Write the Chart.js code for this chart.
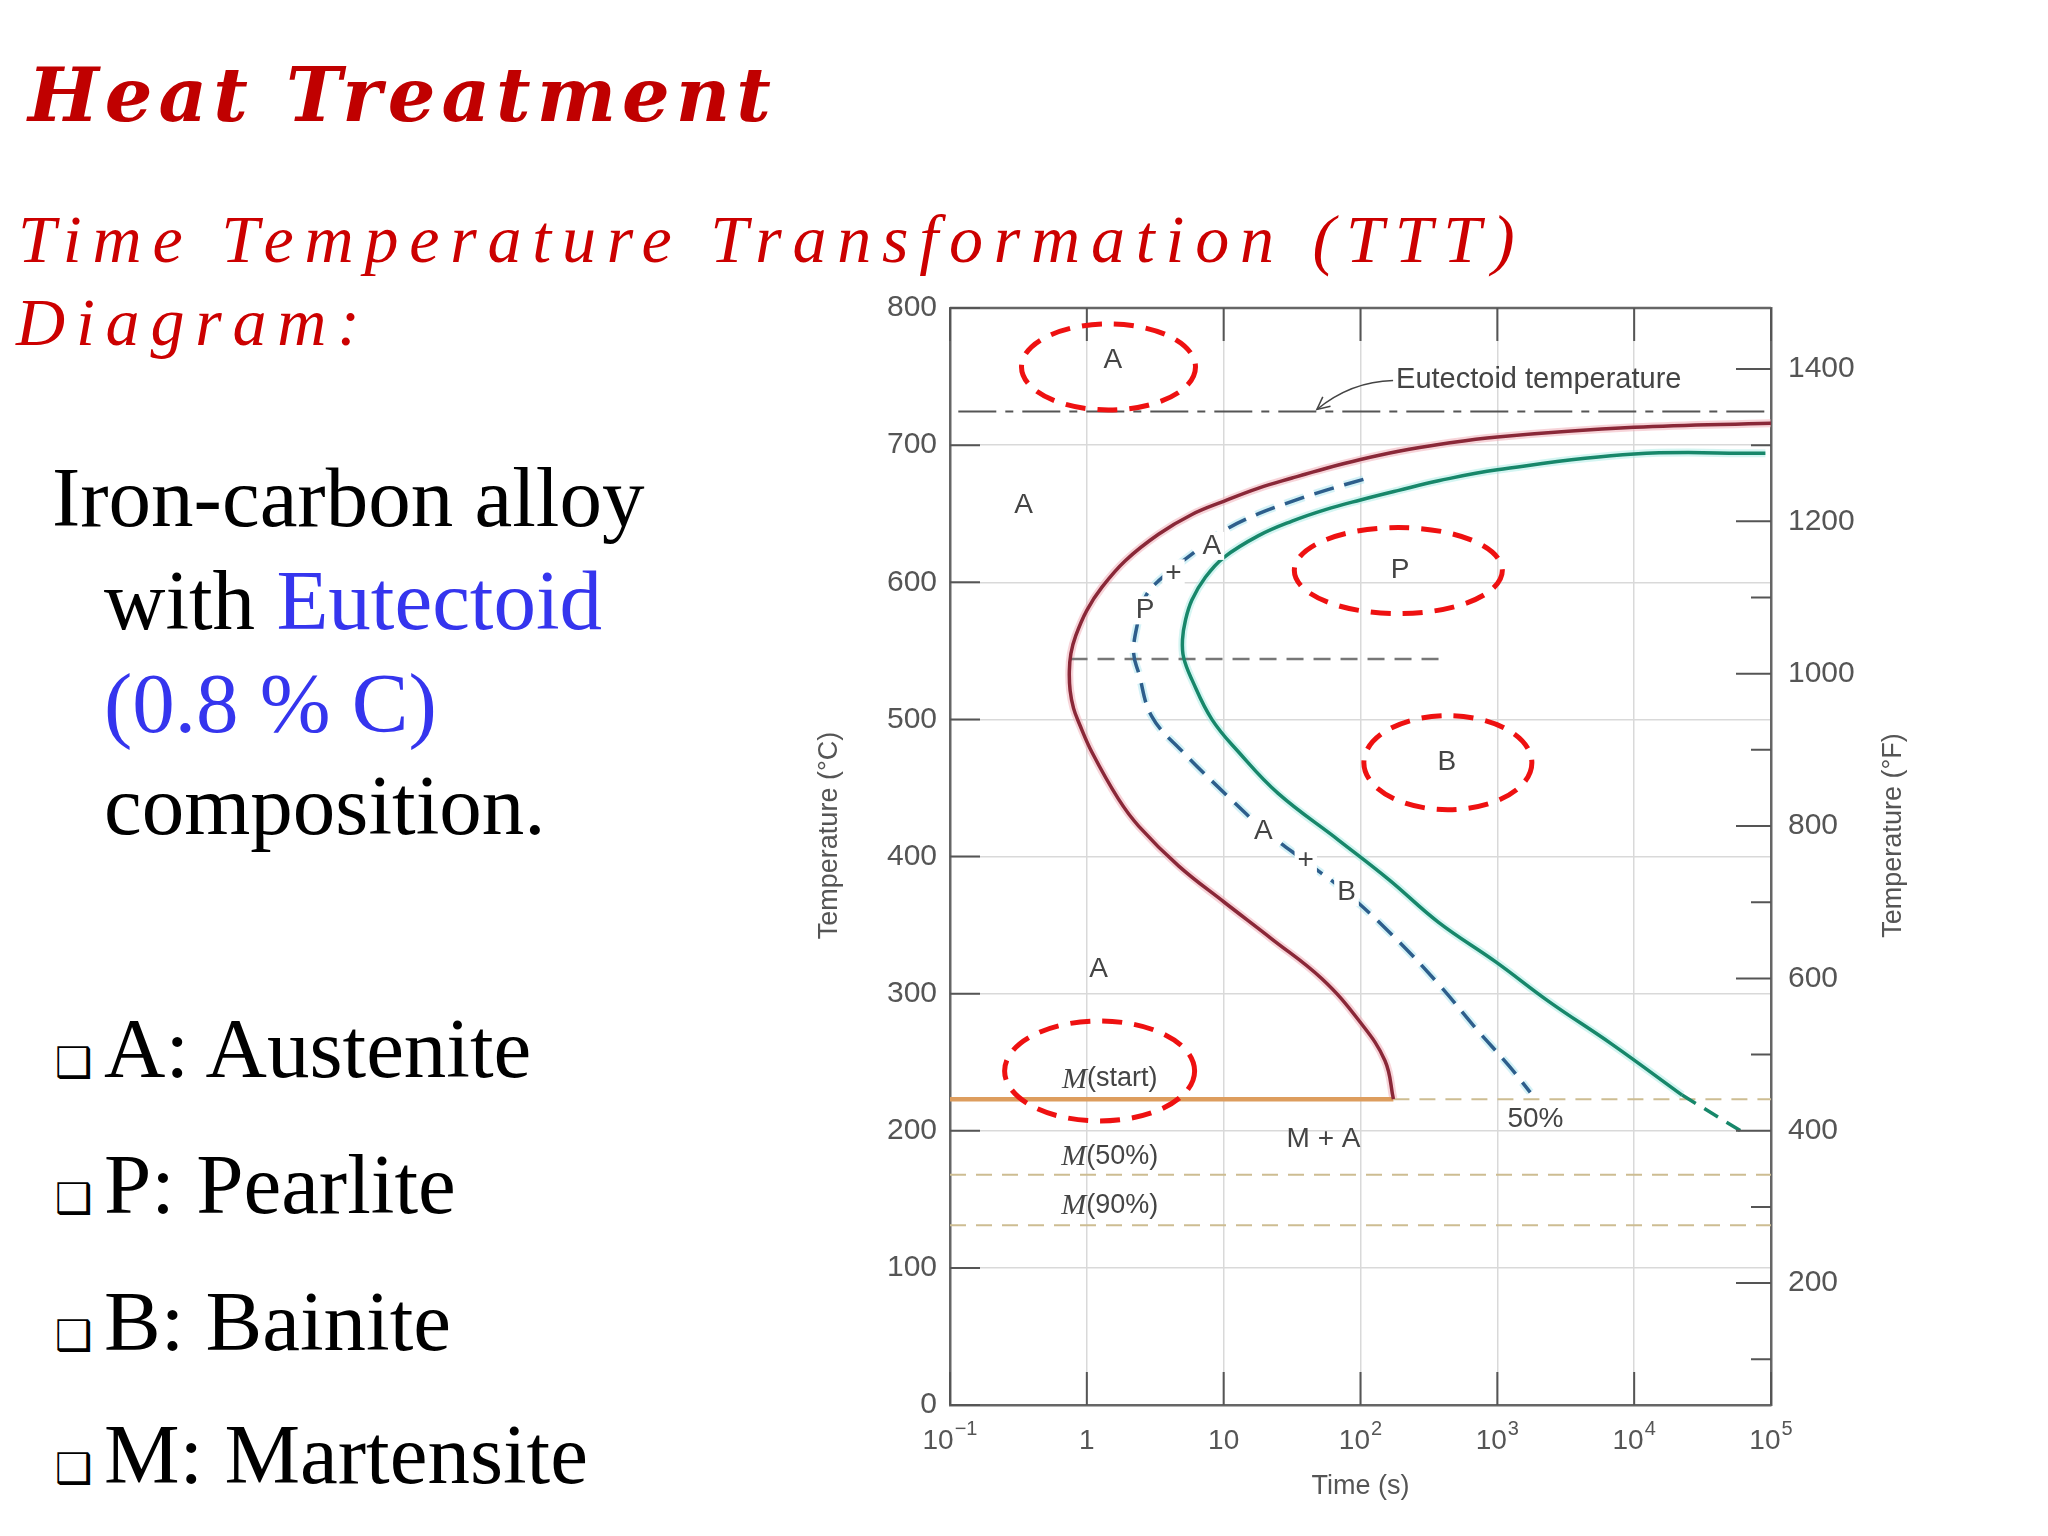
<!DOCTYPE html>
<html>
<head>
<meta charset="utf-8">
<script src="https://cdn.jsdelivr.net/npm/chart.js@4.4.1/dist/chart.umd.min.js"></script>
<style>
  html, body { margin: 0; padding: 0; background: #fff; }
  body { width: 2048px; height: 1536px; position: relative; overflow: hidden; }
  .t { position: absolute; white-space: nowrap; line-height: 1; }
  .title { font-family: "DejaVu Serif", serif; font-weight: bold; font-style: italic; font-size: 75px; color: #c00000; letter-spacing: 6px; }
  .sub { font-family: "Liberation Serif", serif; font-style: italic; font-size: 68px; color: #cc0000; letter-spacing: 10.8px; }
  .body { font-family: "Liberation Serif", "Times New Roman", serif; font-size: 85px; color: #000; }
  .blue { color: #3535ee; }
  .bullet { font-family: "DejaVu Sans", sans-serif; font-size: 42px; color: #000; }
  #chart-box { position: absolute; left: 780px; top: 273px; width: 1240px; height: 1262px; }
</style>
</head>
<body>
<div class="t title" style="left:28px; top:58px;">Heat Treatment</div>
<div class="t sub" style="left:18px; top:205px;">Time Temperature Transformation (TTT)</div>
<div class="t sub" style="left:16px; top:288px;">Diagram:</div>

<div class="t body" style="left:52px; top:455px;">Iron-carbon alloy</div>
<div class="t body" style="left:104px; top:558px;">with <span class="blue">Eutectoid</span></div>
<div class="t body blue" style="left:104px; top:661px;">(0.8 % C)</div>
<div class="t body" style="left:104px; top:763px;">composition.</div>

<div class="t bullet" style="left:55px; top:1042px;">❑</div>
<div class="t body" style="left:104px; top:1006px;">A: Austenite</div>
<div class="t bullet" style="left:55px; top:1178px;">❑</div>
<div class="t body" style="left:104px; top:1142px;">P: Pearlite</div>
<div class="t bullet" style="left:55px; top:1315px;">❑</div>
<div class="t body" style="left:104px; top:1279px;">B: Bainite</div>
<div class="t bullet" style="left:55px; top:1448px;">❑</div>
<div class="t body" style="left:104px; top:1412px;">M: Martensite</div>

<div id="chart-box"><canvas id="ttt" width="1240" height="1262"></canvas></div>

<script>
// ---- axis ticks ----
const xTicks = [0.1, 1, 10, 100, 1000, 10000, 100000]
const xTickBase = ['10', '1', '10', '10', '10', '10', '10']
const xTickExp = ['\u22121', '', '', '2', '3', '4', '5']
const fTicksMajor = [200, 400, 600, 800, 1000, 1200, 1400]
const fTicksMinor = [100, 300, 500, 700, 900, 1100, 1300]

// ---- curves (time in s, temperature in °C) ----
// start of transformation
const startTime = [100000, 10000, 1000, 372, 190, 100, 55.5, 31.6, 18, 10, 5.86, 3.34, 1.91, 1.29, 1.0, 0.83, 0.765, 0.745, 0.755, 0.8, 0.88, 1.09, 1.7, 2.4, 4.7, 10, 22.4, 52, 98, 151, 174]
const startTemp = [716, 713, 706, 700.5, 695.5, 689.5, 683, 676, 668.6, 659, 649.4, 635, 615.7, 596.4, 579.5, 561, 548, 535, 521, 508, 497, 476, 442, 422, 393, 367, 340, 311, 280, 251, 223]
// 50% transformed (dashed)
const halfTime = [105, 55.5, 31.6, 18, 10, 5.86, 3.34, 2.67, 2.32, 2.2, 2.39, 2.99, 4.95, 10.7, 20, 40, 72, 162, 372, 692, 1200, 1740]
const halfTemp = [675, 667, 659, 650, 637.4, 620.5, 601, 589, 567.5, 548, 534, 502, 477, 444, 419, 396, 377, 345, 307, 275, 248, 228]
// end of transformation
const finishTime = [91000, 10000, 1000, 372, 190, 100, 55.5, 31.6, 18, 10, 7.35, 5.86, 5.25, 5.0, 5.1, 5.86, 8.2, 12.9, 25, 69, 162, 372, 980, 2400, 6900, 22400]
const finishTemp = [694, 693.5, 682, 674, 667, 660, 653, 644.6, 634, 618, 603.6, 587, 572, 558, 545, 529, 500, 476, 446, 412, 383, 352, 323, 294, 263, 226]
const finishDashTime = [22400, 60000]
const finishDashTemp = [226, 200]

// ---- horizontal reference lines ----
const eutectoidTemp = 724.5
const eutectoidTime = [0.115, 100000]
const noseTemp = 544
const noseTime = [0.76, 385]
const msTemp = 223
const msSolidTime = [0.1, 174]
const msDashTime = [174, 100000]
const m50Temp = 168
const m90Temp = 131
const mLineTime = [0.1, 100000]

// ---- text labels inside the plot ----
const labelText = ['A', 'A', 'P', '+', 'A', 'P', 'B', 'A', '+', 'B', 'A', 'M + A', '50%']
const labelTime = [1.55, 0.345, 2.67, 4.3, 8.2, 195, 427, 19.5, 39.8, 79, 1.22, 53.7, 1900]
const labelTemp = [762, 656, 579.5, 606.5, 626.5, 608.5, 469, 418.6, 397, 374, 318, 193.6, 208]
const labelMask = [false, false, true, true, true, false, false, true, true, true, false, false, false]
const mSuffix = ['(start)', '(50%)', '(90%)']
const mTime = [1.47, 1.47, 1.47]
const mTemp = [238, 181.5, 145.5]
const eutLabel = 'Eutectoid temperature'
const eutLabelTime = 182
const eutLabelTemp = 747.8
const eutArrowTime = 48

// ---- highlighted regions (red dashed ellipses) ----
const ringTime = [1.44, 189, 435, 1.24]
const ringTemp = [757, 608.5, 468.4, 243.6]
const ringRx = [87, 104, 84, 95]
const ringRy = [43, 43, 47, 50]

const toPoints = (times, temps) => times.map((t, i) => ({ x: t, y: temps[i] }))
const flat = (times, temp) => times.map(t => ({ x: t, y: temp }))

const RED = '#8a2838'
const GREEN = '#17876a'
const BLUE = '#2d5e8c'
const AXIS = '#666'
const GRID = '#d9d9d9'
const TXT = '#444'
const SANS = '"Liberation Sans", Arial, sans-serif'

const line = (data, color, width, dash, extra) => Object.assign({
    data: data,
    showLine: true,
    borderColor: color,
    borderWidth: width,
    borderDash: dash || [],
    pointRadius: 0,
    fill: false,
    tension: 0
}, extra || {})

const datasets = [
    line(toPoints(startTime, startTemp), RED, 3.5, [], { tension: 0.4 }),
    line(toPoints(halfTime, halfTemp), BLUE, 3.5, [20, 11], { tension: 0.4 }),
    line(toPoints(finishTime, finishTemp), GREEN, 3.5, [], { tension: 0.4 }),
    line(toPoints(finishDashTime, finishDashTemp), GREEN, 3.5, [16, 10]),
    line(flat(msSolidTime, msTemp), '#dd9d5e', 4.5),
    line(flat(msDashTime, msTemp), '#cdbd92', 2, [16, 10]),
    line(flat(mLineTime, m50Temp), '#cdbd92', 2, [16, 10]),
    line(flat(mLineTime, m90Temp), '#cdbd92', 2, [16, 10]),
    line(flat(eutectoidTime, eutectoidTemp), '#555', 2, [38, 9, 8, 9]),
    line(flat(noseTime, noseTemp), '#777', 2.5, [17, 10]),
    // soft halos under the curves
    line(toPoints(startTime, startTemp), 'rgba(240,170,180,0.5)', 8, [], { tension: 0.4 }),
    line(toPoints(halfTime, halfTemp), 'rgba(170,230,240,0.5)', 8, [20, 11], { tension: 0.4 }),
    line(toPoints(finishTime, finishTemp), 'rgba(170,235,230,0.5)', 8, [], { tension: 0.4 })
]

const decor = {
    id: 'decor',
    afterDatasetsDraw(chart) {
        const { ctx, chartArea: a, scales } = chart
        const x = scales.x, y = scales.y, y2 = scales.y2
        ctx.save()

        // frame top
        ctx.strokeStyle = AXIS
        ctx.lineWidth = 2.5
        ctx.beginPath()
        ctx.moveTo(a.left, a.top)
        ctx.lineTo(a.right, a.top)
        ctx.stroke()

        // inward tick marks
        ctx.strokeStyle = '#555'
        ctx.lineWidth = 2
        ctx.beginPath()
        y.ticks.forEach(t => {
            const py = y.getPixelForValue(t.value)
            ctx.moveTo(a.left, py); ctx.lineTo(a.left + 30, py)
        })
        xTicks.forEach(v => {
            const px = x.getPixelForValue(v)
            ctx.moveTo(px, a.bottom); ctx.lineTo(px, a.bottom - 33)
            ctx.moveTo(px, a.top); ctx.lineTo(px, a.top + 33)
        })
        fTicksMajor.forEach(v => {
            const py = y2.getPixelForValue(v)
            ctx.moveTo(a.right - 35, py); ctx.lineTo(a.right, py)
        })
        fTicksMinor.forEach(v => {
            const py = y2.getPixelForValue(v)
            ctx.moveTo(a.right - 20, py); ctx.lineTo(a.right, py)
        })
        ctx.stroke()

        // x tick labels with exponents
        ctx.fillStyle = '#555'
        ctx.textBaseline = 'middle'
        xTicks.forEach((v, i) => {
            const px = x.getPixelForValue(v)
            ctx.font = '28px ' + SANS
            const wb = ctx.measureText(xTickBase[i]).width
            ctx.font = '20px ' + SANS
            const we = xTickExp[i] ? ctx.measureText(xTickExp[i]).width + 1 : 0
            const x0 = px - (wb + we) / 2
            ctx.textAlign = 'left'
            ctx.font = '28px ' + SANS
            ctx.fillText(xTickBase[i], x0, a.bottom + 36)
            if (xTickExp[i]) {
                ctx.font = '20px ' + SANS
                ctx.fillText(xTickExp[i], x0 + wb + 1, a.bottom + 24)
            }
        })

        // axis titles
        const midY = (a.top + a.bottom) / 2 - 21
        ctx.font = '27px ' + SANS
        ctx.textAlign = 'center'
        ctx.fillText('Time (s)', (a.left + a.right) / 2, a.bottom + 82)
        ctx.save()
        ctx.translate(a.left - 120, midY)
        ctx.rotate(-Math.PI / 2)
        ctx.fillText('Temperature (\u00B0C)', 0, 0)
        ctx.restore()
        ctx.save()
        ctx.translate(a.right + 123, midY)
        ctx.rotate(-Math.PI / 2)
        ctx.fillText('Temperature (\u00B0F)', 0, 0)
        ctx.restore()

        // region labels
        ctx.font = '28px ' + SANS
        ctx.fillStyle = TXT
        ctx.textAlign = 'center'
        labelText.forEach((s, i) => {
            const px = x.getPixelForValue(labelTime[i])
            const py = y.getPixelForValue(labelTemp[i])
            if (labelMask[i]) {
                const w = ctx.measureText(s).width
                ctx.fillStyle = '#fff'
                ctx.fillRect(px - w / 2 - 3, py - 14, w + 6, 28)
                ctx.fillStyle = TXT
            }
            ctx.fillText(s, px, py)
        })

        // M(...) labels: italic serif M + sans suffix
        mSuffix.forEach((s, i) => {
            const px = x.getPixelForValue(mTime[i])
            const py = y.getPixelForValue(mTemp[i])
            ctx.font = 'italic 30px "Liberation Serif", serif'
            const wm = ctx.measureText('M').width
            ctx.font = '27px ' + SANS
            const ws = ctx.measureText(s).width
            const x0 = px - (wm + ws) / 2
            ctx.textAlign = 'left'
            ctx.font = 'italic 30px "Liberation Serif", serif'
            ctx.fillText('M', x0, py + 1)
            ctx.font = '27px ' + SANS
            ctx.fillText(s, x0 + wm, py)
        })

        // eutectoid label and arrow
        const lx = x.getPixelForValue(eutLabelTime)
        const ly = y.getPixelForValue(eutLabelTemp)
        ctx.font = '29px ' + SANS
        ctx.textAlign = 'left'
        ctx.fillText(eutLabel, lx, ly)
        const ex = x.getPixelForValue(eutArrowTime)
        const ey = y.getPixelForValue(eutectoidTemp) - 2
        const cx = lx - 45, cy = ly + 2
        ctx.strokeStyle = '#444'
        ctx.lineWidth = 1.5
        ctx.beginPath()
        ctx.moveTo(lx - 3, ly + 1)
        ctx.quadraticCurveTo(cx, cy, ex, ey)
        ctx.stroke()
        const ang = Math.atan2(ey - cy, ex - cx)
        ctx.beginPath()
        ctx.moveTo(ex - 14 * Math.cos(ang - 0.45), ey - 14 * Math.sin(ang - 0.45))
        ctx.lineTo(ex, ey)
        ctx.lineTo(ex - 14 * Math.cos(ang + 0.45), ey - 14 * Math.sin(ang + 0.45))
        ctx.stroke()

        // red dashed rings
        ctx.strokeStyle = '#ee1111'
        ctx.lineWidth = 5
        ctx.setLineDash([20, 12])
        ringTime.forEach((t, i) => {
            ctx.beginPath()
            ctx.ellipse(x.getPixelForValue(t), y.getPixelForValue(ringTemp[i]), ringRx[i], ringRy[i], 0, 0, Math.PI * 2)
            ctx.stroke()
        })
        ctx.restore()
    }
}

new Chart(document.getElementById('ttt'), {
    type: 'scatter',
    data: { datasets: datasets },
    options: {
        responsive: false,
        animation: false,
        layout: { padding: { top: 20, left: 0, right: 0, bottom: 0 } },
        plugins: { legend: { display: false }, tooltip: { enabled: false } },
        scales: {
            x: {
                type: 'logarithmic',
                min: 0.1,
                max: 100000,
                afterBuildTicks: s => { s.ticks = xTicks.map(v => ({ value: v })) },
                afterFit: s => { s.height = 130 },
                grid: { color: GRID, lineWidth: 1.5, drawTicks: false },
                border: { color: AXIS, width: 2.5 },
                ticks: { display: false }
            },
            y: {
                min: 0,
                max: 800,
                afterFit: s => { s.width = 170 },
                grid: { color: GRID, lineWidth: 1.5, drawTicks: false },
                border: { color: AXIS, width: 2.5 },
                ticks: { stepSize: 100, padding: 13, color: '#555', font: { family: SANS, size: 30 } }
            },
            y2: {
                position: 'right',
                min: 40,
                max: 1480,
                afterBuildTicks: s => { s.ticks = fTicksMajor.map(v => ({ value: v })) },
                afterFit: s => { s.width = 249 },
                grid: { display: false, drawTicks: false },
                border: { color: AXIS, width: 2.5 },
                ticks: { padding: 17, color: '#555', font: { family: SANS, size: 30 }, callback: v => String(v) }
            }
        }
    },
    plugins: [decor]
})
</script>
</body>
</html>
